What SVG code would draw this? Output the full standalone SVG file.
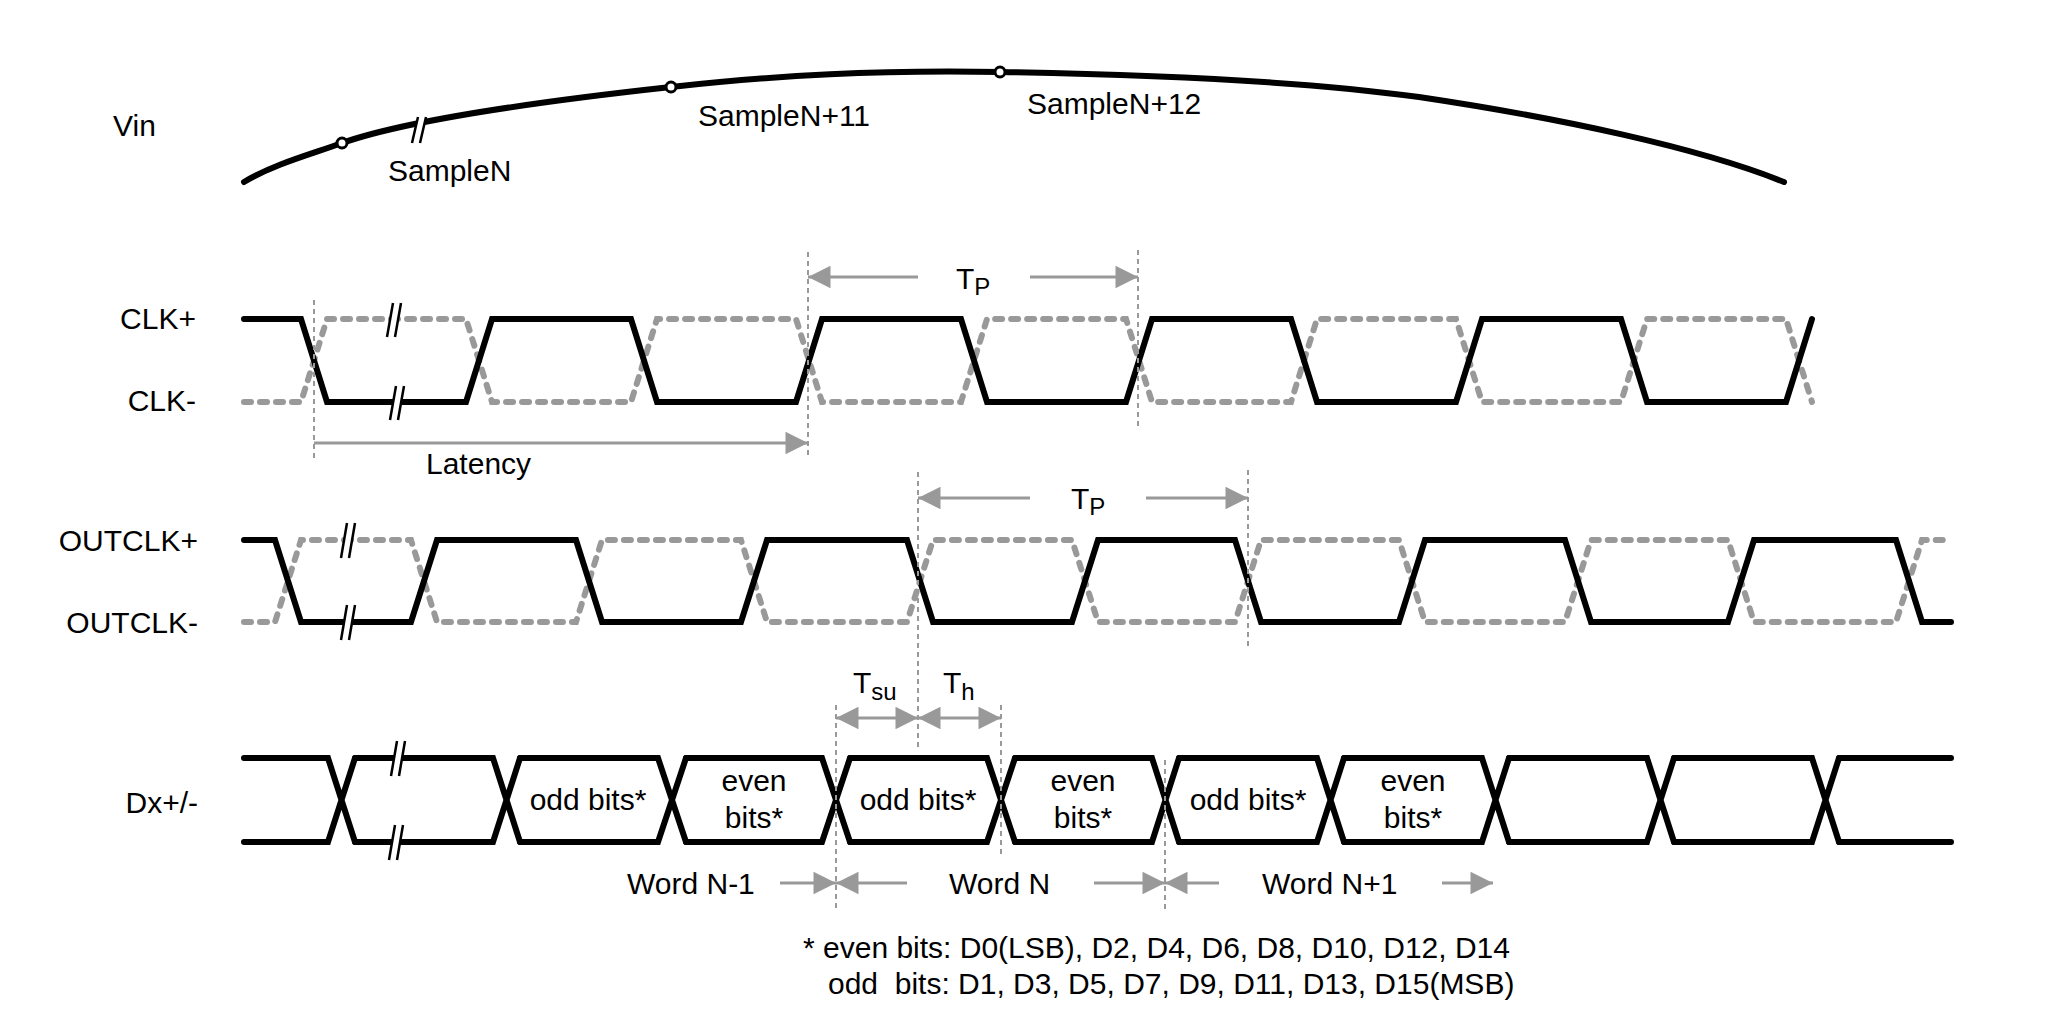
<svg xmlns="http://www.w3.org/2000/svg" width="2055" height="1019" viewBox="0 0 2055 1019">
<style>
text{font-family:"Liberation Sans",Arial,sans-serif;font-size:30px;fill:#000}
.sub{font-size:24px}
.blk{fill:none;stroke:#000;stroke-width:6;stroke-linejoin:miter;stroke-linecap:round}
.gry{fill:none;stroke:#999;stroke-width:6;stroke-dasharray:7 9;stroke-linecap:round}
.vd{stroke:#999;stroke-width:2;stroke-dasharray:5 4;fill:none}
.ar{stroke:#999;stroke-width:3;fill:none}
.brk{stroke:#000;stroke-width:2.5;fill:none}
.wht{stroke:#fff;stroke-width:7;fill:none}
</style>
<defs>
<marker id="ah" viewBox="0 0 10 10" refX="10" refY="5" markerWidth="9" markerHeight="7.5" markerUnits="strokeWidth" orient="auto-start-reverse"><path d="M0,0L10,5L0,10Z" fill="#999"/></marker>
</defs>
<g id="vin">
<path class="blk" d="M244,182 C274,164 312,154 342,143 C413,118 561,99 671,87 C781,75 875,70 1000,72 C1125,74 1288,79 1419,97 C1560,118 1700,148 1784,182"/>
<circle cx="342" cy="143" r="5" fill="#fff" stroke="#000" stroke-width="3"/>
<circle cx="671" cy="87" r="5" fill="#fff" stroke="#000" stroke-width="3"/>
<circle cx="1000" cy="72" r="5" fill="#fff" stroke="#000" stroke-width="3"/>
<path class="wht" d="M416,143 L422,117"/>
<path class="brk" d="M412,143 L418,117 M420,143 L426,117"/>
<text x="113" y="136">Vin</text>
<text x="388" y="181">SampleN</text>
<text x="698" y="126">SampleN+11</text>
<text x="1027" y="114">SampleN+12</text>
</g>
<g id="clk">
<text x="196" y="329" text-anchor="end">CLK+</text>
<text x="196" y="411" text-anchor="end">CLK-</text>
<path class="gry" d="M244,402 L301,402 L327,319 L466,319 L492,402 L631,402 L657,319 L796,319 L822,402 L961,402 L987,319 L1126,319 L1152,402 L1291,402 L1317,319 L1456,319 L1482,402 L1621,402 L1647,319 L1786,319 L1812,402"/>
<path class="blk" d="M244,319 L301,319 L327,402 L466,402 L492,319 L631,319 L657,402 L796,402 L822,319 L961,319 L987,402 L1126,402 L1152,319 L1291,319 L1317,402 L1456,402 L1482,319 L1621,319 L1647,402 L1786,402 L1812,319"/>
<path class="wht" d="M391,336 L397,303 M394,419 L400,386"/>
<path class="brk" d="M387,337 L393,303 M395,337 L401,303 M390,420 L396,386 M398,420 L404,386"/>
</g>
<g id="outclk">
<text x="198" y="551" text-anchor="end">OUTCLK+</text>
<text x="198" y="633" text-anchor="end">OUTCLK-</text>
<path class="gry" d="M244,622 L275,622 L301,540 L411,540 L437,622 L576,622 L602,540 L741,540 L767,622 L907,622 L933,540 L1072,540 L1098,622 L1235,622 L1261,540 L1399,540 L1425,622 L1565,622 L1591,540 L1728,540 L1754,622 L1896,622 L1922,540 L1951,540"/>
<path class="blk" d="M244,540 L275,540 L301,622 L411,622 L437,540 L576,540 L602,622 L741,622 L767,540 L907,540 L933,622 L1072,622 L1098,540 L1235,540 L1261,622 L1399,622 L1425,540 L1565,540 L1591,622 L1728,622 L1754,540 L1896,540 L1922,622 L1951,622"/>
<path class="wht" d="M345,557 L351,524 M345,639 L351,606"/>
<path class="brk" d="M341,558 L347,523 M349,558 L355,523 M341,640 L347,605 M349,640 L355,605"/>
</g>
<g id="dx">
<text x="198" y="813" text-anchor="end">Dx+/-</text>
<path class="blk" d="M244,758 L328,758 L355,842 M244,842 L328,842 L355,758"/>
<path class="blk" d="M355,758 L493,758 L520,842 M355,842 L493,842 L520,758"/>
<path class="blk" d="M520,758 L658,758 L686,842 M520,842 L658,842 L686,758"/>
<path class="blk" d="M686,758 L822,758 L850,842 M686,842 L822,842 L850,758"/>
<path class="blk" d="M850,758 L987,758 L1015,842 M850,842 L987,842 L1015,758"/>
<path class="blk" d="M1015,758 L1152,758 L1179,842 M1015,842 L1152,842 L1179,758"/>
<path class="blk" d="M1179,758 L1317,758 L1344,842 M1179,842 L1317,842 L1344,758"/>
<path class="blk" d="M1344,758 L1482,758 L1509,842 M1344,842 L1482,842 L1509,758"/>
<path class="blk" d="M1509,758 L1647,758 L1674,842 M1509,842 L1647,842 L1674,758"/>
<path class="blk" d="M1674,758 L1812,758 L1839,842 M1674,842 L1812,842 L1839,758"/>
<path class="blk" d="M1839,758 L1951,758 M1839,842 L1951,842"/>
<path class="wht" d="M395,775 L401,742 M393,859 L399,826"/>
<path class="brk" d="M391,776 L397,741 M399,776 L405,741 M389,860 L395,825 M397,860 L403,825"/>
<g text-anchor="middle">
<text x="588" y="810">odd bits*</text>
<text x="754" y="791">even</text><text x="754" y="828">bits*</text>
<text x="918" y="810">odd bits*</text>
<text x="1083" y="791">even</text><text x="1083" y="828">bits*</text>
<text x="1248" y="810">odd bits*</text>
<text x="1413" y="791">even</text><text x="1413" y="828">bits*</text>
</g>
</g>
<g id="connectors">
<path class="vd" d="M314,300 V458 M808,252 V458 M1138,250 V430 M918,472 V747 M1248,470 V650 M836,705 V910 M1001,705 V857 M1165,760 V912"/>
<path class="ar" marker-end="url(#ah)" d="M918,277 H808"/>
<path class="ar" marker-end="url(#ah)" d="M1030,277 H1138"/>
<path class="ar" marker-end="url(#ah)" d="M314,443 H808"/>
<path class="ar" marker-end="url(#ah)" d="M1030,498 H918"/>
<path class="ar" marker-end="url(#ah)" d="M1146,498 H1248"/>
<path class="ar" marker-start="url(#ah)" marker-end="url(#ah)" d="M836,718 H918"/>
<path class="ar" marker-start="url(#ah)" marker-end="url(#ah)" d="M918,718 H1001"/>
<path class="ar" marker-end="url(#ah)" d="M780,883 H836"/>
<path class="ar" marker-end="url(#ah)" d="M907,883 H836"/>
<path class="ar" marker-end="url(#ah)" d="M1094,883 H1165"/>
<path class="ar" marker-end="url(#ah)" d="M1219,883 H1165"/>
<path class="ar" marker-end="url(#ah)" d="M1442,883 H1493"/>
</g>
<g id="labels">
<text x="956" y="289">T<tspan class="sub" dy="6">P</tspan></text>
<text x="1071" y="509">T<tspan class="sub" dy="6">P</tspan></text>
<text x="426" y="474">Latency</text>
<text x="853" y="693">T<tspan class="sub" dy="7">su</tspan></text>
<text x="943" y="693">T<tspan class="sub" dy="7">h</tspan></text>
<text x="627" y="894">Word N-1</text>
<text x="949" y="894">Word N</text>
<text x="1262" y="894">Word N+1</text>
<text x="803" y="958">* even bits: D0(LSB), D2, D4, D6, D8, D10, D12, D14</text>
<text x="828" y="994" xml:space="preserve">odd  bits: D1, D3, D5, D7, D9, D11, D13, D15(MSB)</text>
</g>
</svg>
